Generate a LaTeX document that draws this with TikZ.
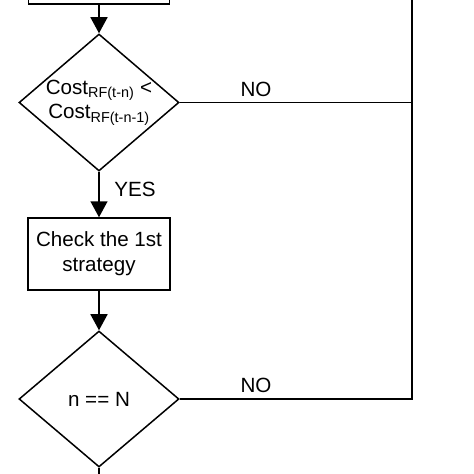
\documentclass[tikz,border=0pt]{standalone}
\usepackage{fontspec}
\setmainfont{Liberation Sans}
\usetikzlibrary{shapes.geometric,arrows.meta}

\begin{document}
\begin{tikzpicture}[x=1pt,y=-1pt,line width=1.5pt,
    every node/.style={font=\fontsize{20.6}{24.7}\selectfont},
    box/.style={draw,rectangle,align=center,inner sep=0pt},
    test/.style={draw,diamond,aspect=1.17,align=center,inner sep=0pt},
    flow/.style={-{Triangle[width=17pt,length=16pt]}}]
  \useasboundingbox (0,0) rectangle (474,474);
      \node[box,minimum width=141pt,minimum height=70pt] (b0) at (99,-31) {};
      \node[test,minimum width=160pt,minimum height=137pt] (d1) at (99,102.5) {Cost\textsubscript{RF(t-n)} <\\Cost\textsubscript{RF(t-n-1)}};
      \node[box,minimum width=142pt,minimum height=72pt] (b1) at (99,254) {Check the 1st\\strategy};
      \node[test,minimum width=160pt,minimum height=136pt] (d2) at (99,399) {n == N};
      \coordinate (r1) at (412,102.5);
      \coordinate (r2) at (412,399);
      \coordinate (rtop) at (412,-40);
      \coordinate (dn) at (99,500);
      \node (no1) at (256,89) {NO};
      \node (yes1) at (135,189) {YES};
      \node (no2) at (256,385) {NO};
      \node (yes2) at (135,482) {YES};
    \draw[flow] (b0) -- (d1);
    \draw[flow] (d1) -- (b1);
    \draw[flow] (b1) -- (d2);
    \draw (d1.east) -- (r1);
    \draw (d2.east) -- (r2) -- (rtop);
    \draw (d2) -- (dn);
\end{tikzpicture}
\end{document}
